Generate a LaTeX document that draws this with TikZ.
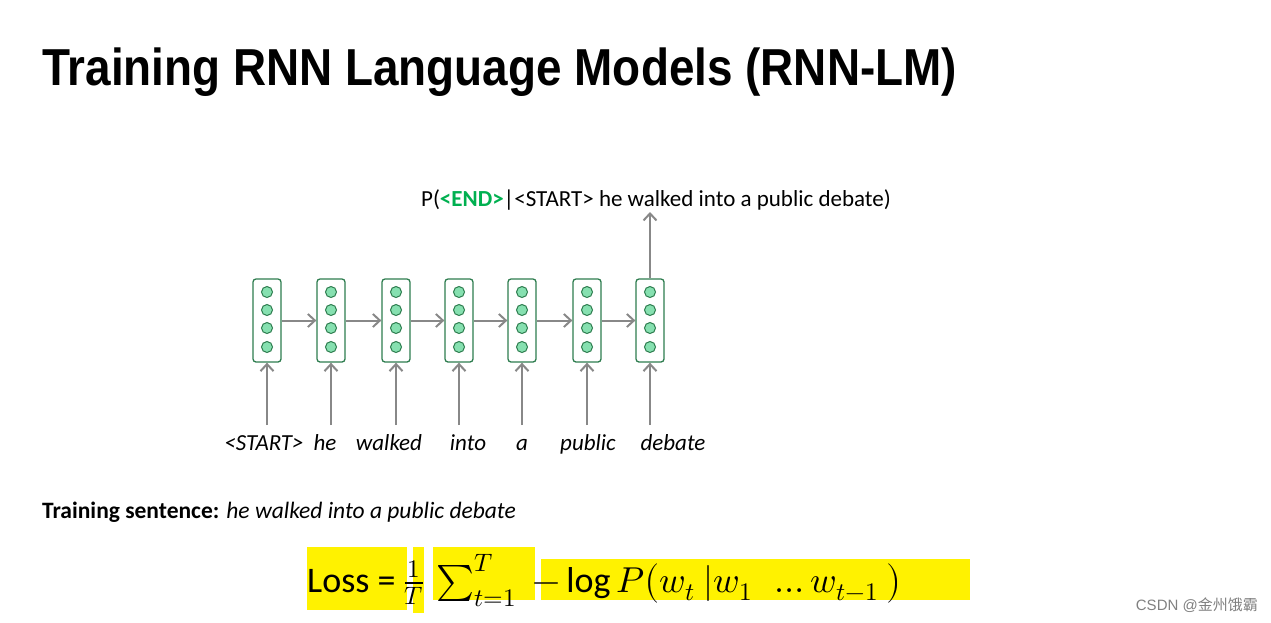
\documentclass[tikz,border=0pt]{standalone}
\usepackage{fontspec}
\usepackage{unicode-math}
\setmainfont{Carlito}
\setmathfont{Latin Modern Math}
\newfontfamily\titlefont{Liberation Sans}
\newfontfamily\cjk{Noto Sans CJK SC}
\usetikzlibrary{arrows.meta}
\definecolor{cellg}{HTML}{2E7D4F}
\definecolor{dotg}{HTML}{86E0B0}
\definecolor{endg}{HTML}{00B050}
\definecolor{arr}{HTML}{888888}
\tikzset{
 cell/.style={draw=cellg,line width=1.3pt,rounded corners=3pt,minimum width=28pt,minimum height=83pt,fill=white},
 dot/.style={circle,draw=cellg,line width=1pt,fill=dotg,minimum size=11pt,inner sep=0pt},
 garr/.style={draw=arr,line width=2pt,-{Straight Barb[length=7pt,width=13pt,line width=2pt]}},
 word/.style={font=\fontsize{23}{27}\selectfont\itshape,anchor=base}
}
\begin{document}
\begin{tikzpicture}[x=1pt,y=-1pt]
\useasboundingbox (0,0) rectangle (1271,622);
\node[anchor=base west,inner sep=0pt] (title) at (42,85) {\titlefont\bfseries\fontsize{52}{60}\selectfont\scalebox{0.882}[1]{Training RNN Language Models (RNN-LM)}};
\foreach \i/\x/\w in {1/264/{<START>},2/325/he,3/389/walked,4/468/into,5/522/a,6/588/public,7/673/debate}{
  \pgfmathsetmacro{\cx}{{267,331,396,459,522,587,650}[\i-1]}
  \node[cell] (c\i) at (\cx,320.5) {};
  \foreach \j/\y in {1/292,2/310,3/328,4/347} \node[dot] (d\i\j) at (\cx,\y) {};
  \node[word] (w\i) at (\x,450) {\w};
  \coordinate (b\i) at (\cx,425);
  \draw[garr] (b\i) -- (c\i.south);
}
\foreach \a/\b in {1/2,2/3,3/4,4/5,5/6,6/7} \draw[garr] (c\a.east) -- (c\b.west);
\node[anchor=base,font=\fontsize{23}{27}\selectfont] (p) at (656,206) {P(\textcolor{endg}{\bfseries<END>}|<START> he walked into a public debate)};
\draw[garr] (c7.north) -- (650,212);
\node[anchor=base west,inner sep=0pt,font=\fontsize{23.5}{28}\selectfont] (ts) at (42,518) {\textbf{Training sentence:} \textit{he walked into a public debate}};
\fill[yellow] (307,547) rectangle (407,610);
\fill[yellow] (413,547) rectangle (424,613);
\fill[yellow] (433,547) rectangle (535,600);
\fill[yellow] (541,559) rectangle (970,600);
\node[anchor=base west,inner sep=0pt] (loss) at (307,592) {\fontsize{36}{42}\selectfont Loss = $\frac{1}{T}\,\sum_{t=1}^{T}\; -\log P\big(w_t\ |w_1\ \ \dots w_{t-1}\ \big)$};
\node[anchor=base east,inner sep=0pt,text=gray,font=\fontsize{15}{18}\selectfont] (wm) at (1258,610) {\fontspec{Liberation Sans}CSDN @\cjk 金州饿霸};
\end{tikzpicture}
\end{document}
